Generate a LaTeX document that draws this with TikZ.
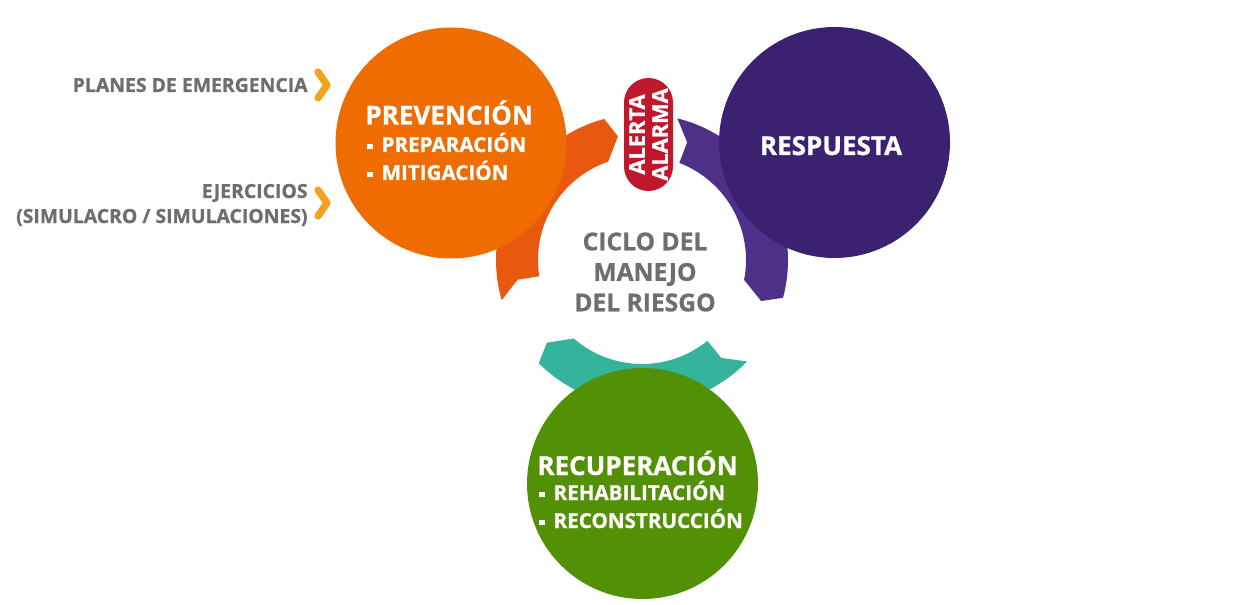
\documentclass[tikz,border=0pt]{standalone}
\usepackage{fontspec}
\setmainfont{Open Sans}[BoldFeatures={FakeBold=0.9}]
\usepackage{xcolor}
\usepackage{tikz}
\usetikzlibrary{calc, positioning}

\definecolor{prevOrange}{HTML}{EE6C00}
\definecolor{prevArc}{HTML}{E8590F}
\definecolor{respPurple}{HTML}{3B2271}
\definecolor{respArc}{HTML}{4E3089}
\definecolor{recTeal}{HTML}{35B39B}
\definecolor{recGreen}{HTML}{529006}
\definecolor{alertRed}{HTML}{C1172C}
\definecolor{tickYellow}{HTML}{F4A21D}
\definecolor{labelGray}{HTML}{6E6E6E}

\newcommand{\sqb}{\rule[1.6pt]{2.6pt}{2.6pt}\hspace{4.5pt}}

% one piece of the ring: colour, tail angle, head angle
\newcommand{\ringpiece}[3]{%
  \fill[#1] ($(ring)+({#2+7}:146)$) arc[start angle={#2+7}, end angle={#3}, radius=146]
    -- ($(ring)+({#3-4}:126)$) -- ($(ring)+({#3+4}:104)$)
    arc[start angle={#3+4}, end angle={#2}, radius=104]
    -- ($(ring)+({#2}:126)$) -- cycle;}

\begin{document}
\begin{tikzpicture}[x=0.5pt, y=0.5pt,
                    bubble/.style={circle, minimum size=115.5pt, inner sep=0pt},
                    title/.style={font=\fontsize{13}{15}\selectfont\bfseries, text=white, inner sep=0pt},
                    item/.style={font=\fontsize{10.3}{12}\selectfont\bfseries, text=white, inner sep=0pt},
                    side/.style={font=\fontsize{9.7}{12}\selectfont\bfseries, text=labelGray, inner sep=0pt},
                    ciclo/.style={font=\fontsize{12.3}{15.25}\selectfont\bfseries, text=labelGray, align=center, inner sep=0pt},
                    badge/.style={rotate=90, fill=alertRed, text=white, rounded corners=12.25pt,
                      minimum width=56.5pt, minimum height=24.5pt, inner sep=0pt, align=center,
                      font=\fontsize{10.9}{11.5}\selectfont\bfseries},
                    tick/.style={draw=tickYellow, line width=3.6pt, line cap=round, line join=round}]

  \useasboundingbox (0,0) rectangle (1240,-604);

  % the ring
  \coordinate (ring) at (642,-260);
  \ringpiece{prevArc}{189}{105}
  \ringpiece{respArc}{69}{-15}
  \ringpiece{recTeal}{-51}{-135}

  % the three phases
  \node[bubble, fill=prevOrange] (prev) at (451,-143) {};
  \node[bubble, fill=respPurple] (resp) at (834.5,-142.5) {};
  \node[bubble, fill=recGreen] (recu) at (642.5,-483.5) {};

  \node[badge] (alert) at (648.5,-134.5) {ALERTA\\ALARMA};

  \node[title, anchor=base west] (prevT) at (365,-124.5) {PREVENCIÓN};
  \node[item, anchor=base west] (prep) at (367,-152) {\sqb PREPARACIÓN};
  \node[item, anchor=base west] (miti) at (367,-180) {\sqb MITIGACIÓN};

  \node[title, anchor=base] (respT) at (831,-155) {RESPUESTA};

  \node[title, anchor=base west] (recuT) at (537,-475) {RECUPERACIÓN};
  \node[item, anchor=base west] (reha) at (539,-500) {\sqb REHABILITACIÓN};
  \node[item, anchor=base west] (reco) at (539,-528) {\sqb RECONSTRUCCIÓN};

  \node[ciclo] (ciclo) at (645,-272) {CICLO DEL\\MANEJO\\DEL RIESGO};

  % left labels
  \node[side, anchor=base east] (plan) at (308,-92) {PLANES DE EMERGENCIA};
  \node[side, anchor=base east] (ejer) at (308,-198) {EJERCICIOS};
  \node[side, anchor=base east] (simu) at (308,-223) {(SIMULACRO / SIMULACIONES)};

  \draw[tick] (318,-72) -- (327,-85) -- (318,-98);
  \draw[tick] (318,-190) -- (327,-203) -- (318,-216);
\end{tikzpicture}
\end{document}
